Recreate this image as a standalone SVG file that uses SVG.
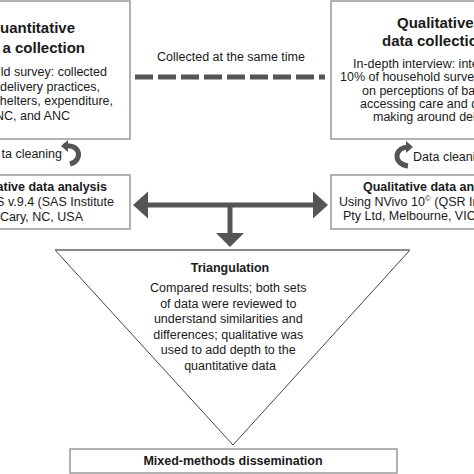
<svg xmlns="http://www.w3.org/2000/svg" width="474" height="474" viewBox="0 0 474 474">
<style>
.box{fill:#fff;stroke:#999;stroke-width:1.5}
.t{font-family:"Liberation Sans",Arial,sans-serif;fill:#1a1a1a}
.title{font-size:15px;font-weight:bold}
.body{font-size:12.5px}
.bold{font-size:12.5px;font-weight:bold}
.arr{stroke:#555;stroke-width:5;fill:none}
.head{fill:#555}
</style>
<rect width="474" height="474" fill="#fff"/>
<g id="quant-collection">
<rect class="box" x="-70" y="1" width="200" height="138"/>
<text class="t title" x="75" y="33" text-anchor="end">uantitative</text>
<text class="t title" x="85" y="53" text-anchor="end">a collection</text>
<text class="t body" x="107" y="76" text-anchor="end">ld survey: collected</text>
<text class="t body" x="100" y="90.7" text-anchor="end">-delivery practices,</text>
<text class="t body" x="113" y="105.4" text-anchor="end">helters, expenditure,</text>
<text class="t body" x="70" y="120.1" text-anchor="end">NC, and ANC</text>
</g>
<g id="qual-collection">
<rect class="box" x="331" y="1" width="210" height="138"/>
<text class="t title" x="397" y="28">Qualitative</text>
<text class="t title" x="382" y="46">data collection</text>
<text class="t body" x="353" y="68">In-depth interview: interviewed</text>
<text class="t body" x="340" y="81.3">10% of household survey</text>
<text class="t body" x="362" y="94.6">on perceptions of barriers</text>
<text class="t body" x="360" y="107.9">accessing care and decision</text>
<text class="t body" x="373" y="121.2">making around delivery</text>
</g>
<g id="same-time">
<text class="t body" x="231" y="61" text-anchor="middle">Collected at the same time</text>
</g>
<g id="quant-cleaning">
<text class="t body" x="62" y="158" text-anchor="end">ta cleaning</text>
</g>
<g id="qual-cleaning">
<text class="t body" x="413" y="160.5">Data cleaning</text>
</g>
<g id="quant-analysis">
<rect class="box" x="-70" y="175" width="200" height="54"/>
<text class="t bold" x="107" y="190.5" text-anchor="end">ative data analysis</text>
<text class="t body" x="114" y="205.5" text-anchor="end">S v.9.4 (SAS Institute</text>
<text class="t body" x="83" y="220.5" text-anchor="end">Cary, NC, USA</text>
</g>
<g id="qual-analysis">
<rect class="box" x="331" y="175" width="210" height="54"/>
<text class="t bold" x="363" y="190.5">Qualitative data analysis</text>
<text class="t body" x="339" y="205.5">Using NVivo 10<tspan font-size="8" dy="-5">©</tspan><tspan dy="5"> (QSR International</tspan></text>
<text class="t body" x="343" y="219.5">Pty Ltd, Melbourne, VIC</text>
</g>
<g id="triangulation">
<polygon points="55,250 410,250 233,445" fill="#fff" stroke="#444" stroke-width="1"/>
<line x1="55" y1="250" x2="410" y2="250" stroke="#888" stroke-width="2"/>
<text class="t bold" x="230" y="272" text-anchor="middle">Triangulation</text>
<text class="t body" text-anchor="middle">
<tspan x="230" y="292">Compared results; both sets</tspan>
<tspan x="230" y="307.5">of data were reviewed to</tspan>
<tspan x="230" y="323">understand similarities and</tspan>
<tspan x="230" y="338.5">differences; qualitative was</tspan>
<tspan x="230" y="354">used to add depth to the</tspan>
<tspan x="230" y="369.5">quantitative data</tspan>
</text>
</g>
<g id="dissemination">
<rect class="box" x="70" y="449" width="327" height="24"/>
<text class="t bold" x="233" y="465" text-anchor="middle">Mixed-methods dissemination</text>
</g>
<g id="connectors">
<line x1="135" y1="77" x2="325" y2="77" stroke="#555" stroke-width="5" stroke-dasharray="18 5"/>
<line class="arr" x1="146" y1="205" x2="315" y2="205"/>
<polygon class="head" points="133,205 148,191.5 148,218.5"/>
<polygon class="head" points="328,205 313,191.5 313,218.5"/>
<line class="arr" x1="230" y1="205" x2="230" y2="235"/>
<polygon class="head" points="230,247 216,233 244,233"/>
<path d="M64,146 C80,143 84,160 70,164" class="arr" stroke-width="4"/>
<polygon class="head" points="61,146 68,140 68,152"/>
<path d="M410,147 C394,146 392,164 408,166" class="arr" stroke-width="4"/>
<polygon class="head" points="413,147 406,141 406,153"/>
</g>
</svg>
